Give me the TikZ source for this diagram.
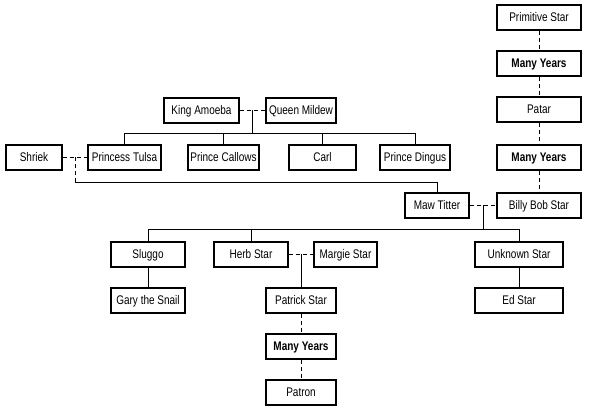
\documentclass[tikz,border=0pt]{standalone}
\usepackage{fontspec}
\setmainfont{Liberation Sans}[FakeStretch=0.8]
\usetikzlibrary{calc}
\begin{document}
\begin{tikzpicture}[x=1pt,y=-1pt,
  box/.style={draw, line width=2pt, minimum height=25pt, inner sep=0pt,
    text height=9pt, text depth=0.8pt, font=\fontsize{12.5}{13}\selectfont},
  bbox/.style={box, font=\fontsize{12.5}{13}\selectfont\bfseries},
  link/.style={line width=1pt},
  dlink/.style={line width=1pt, dash pattern=on 4pt off 3pt}]
\useasboundingbox (0,0) rectangle (594,410);
% nodes
\node[box, minimum width=84pt] (prim) at (539,17) {Primitive Star};
\node[bbox, minimum width=84pt] (my1) at (539,63) {Many Years};
\node[box, minimum width=84pt] (patar) at (539,109) {Patar};
\node[bbox, minimum width=84pt] (my2) at (539,157) {Many Years};
\node[box, minimum width=84pt] (billy) at (539,205) {Billy Bob Star};
\node[box, minimum width=75pt] (king) at (201.5,110) {King Amoeba};
\node[box, minimum width=70pt] (queen) at (301,110) {Queen Mildew};
\node[box, minimum width=56pt] (shriek) at (34,157) {Shriek};
\node[box, minimum width=73pt] (tulsa) at (124.5,157) {Princess Tulsa};
\node[box, minimum width=71pt] (callows) at (223.5,157) {Prince Callows};
\node[box, minimum width=67pt] (carl) at (322.5,157) {Carl};
\node[box, minimum width=70pt] (dingus) at (415,157) {Prince Dingus};
\node[box, minimum width=64pt] (maw) at (437,205) {Maw Titter};
\node[box, minimum width=74pt] (sluggo) at (148,254) {Sluggo};
\node[box, minimum width=74pt] (herb) at (251,254) {Herb Star};
\node[box, minimum width=63pt] (margie) at (345.5,254) {Margie Star};
\node[box, minimum width=88pt] (unknown) at (519,254) {Unknown Star};
\node[box, minimum width=74pt] (gary) at (148,300) {Gary the Snail};
\node[box, minimum width=70pt] (patrick) at (301,300) {Patrick Star};
\node[box, minimum width=88pt] (ed) at (519,300) {Ed Star};
\node[bbox, minimum width=70pt] (my3) at (301,346) {Many Years};
\node[box, minimum width=70pt] (patron) at (301,392) {Patron};
% junction coordinates
\coordinate (kq) at ($(king.east)!0.5!(queen.west)$);
\coordinate (kqbar) at ($(kq)+(0,23)$);
\coordinate (st) at ($(shriek.east)!0.5!(tulsa.west)$);
\coordinate (stc) at ($(st)+(0,25)$);
\coordinate (mb) at ($(maw.east)!0.5!(billy.west)$);
\coordinate (mbbar) at ($(mb)+(0,24)$);
\coordinate (hm) at ($(herb.east)!0.5!(margie.west)$);
% ancestors line
\draw[dlink] (prim) -- (my1);
\draw[dlink] (my1) -- (patar);
\draw[dlink] (patar) -- (my2);
\draw[dlink] (my2) -- (billy);
% King Amoeba & Queen Mildew
\draw[dlink] (king.east) -- (queen.west);
\draw[link] (kq) -- (kqbar);
\draw[link] (tulsa.north) |- (dingus.north |- kqbar) -- (dingus.north);
\draw[link] (callows.north) -- (callows.north |- kqbar);
\draw[link] (carl.north) -- (carl.north |- kqbar);
% Shriek & Princess Tulsa
\draw[dlink] (shriek.east) -- (tulsa.west);
\draw[dlink] (st) -- (stc);
\draw[link] (stc) -- (maw.north |- stc) -- (maw.north);
% Maw Titter & Billy Bob Star
\draw[dlink] (maw.east) -- (billy.west);
\draw[link] (mb) -- (mbbar);
\draw[link] (sluggo.north) |- (unknown.north |- mbbar) -- (unknown.north);
\draw[link] (herb.north) -- (herb.north |- mbbar);
\draw[link] (sluggo) -- (gary);
\draw[link] (unknown) -- (ed);
% Herb Star & Margie Star
\draw[dlink] (herb.east) -- (margie.west);
\draw[link] (hm) -- (patrick.north);
\draw[dlink] (patrick) -- (my3);
\draw[dlink] (my3) -- (patron);
\end{tikzpicture}
\end{document}
